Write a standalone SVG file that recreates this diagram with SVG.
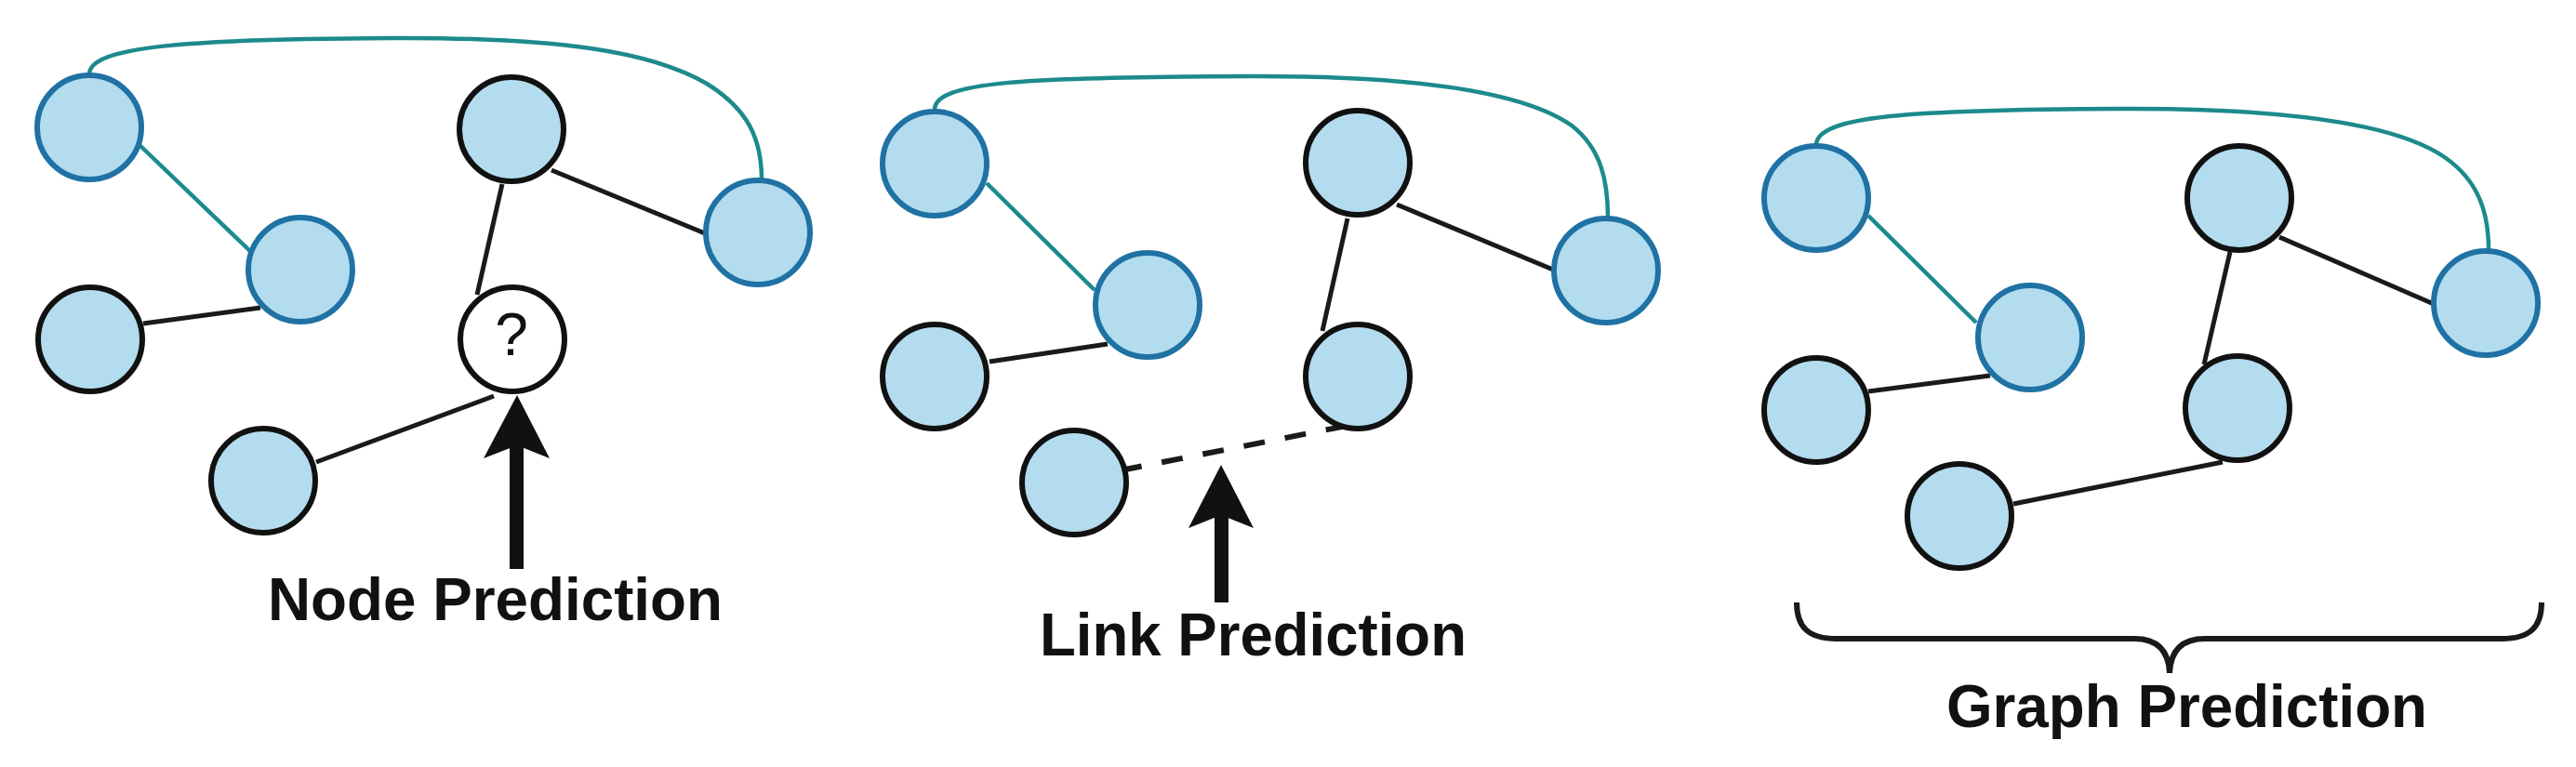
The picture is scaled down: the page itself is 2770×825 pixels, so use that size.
<svg xmlns="http://www.w3.org/2000/svg" width="2770" height="825" viewBox="0 0 2770 825">
<defs>
<style>
.nb{fill:#b3dcef;stroke:#1f72a3;stroke-width:6}
.nk{fill:#b3dcef;stroke:#111;stroke-width:6}
.nw{fill:#fff;stroke:#111;stroke-width:6}
.et{fill:none;stroke:#1d8a8c;stroke-width:4.5}
.ek{fill:none;stroke:#1a1a1a;stroke-width:5}
.ed{fill:none;stroke:#1a1a1a;stroke-width:6;stroke-dasharray:23 22}
.lbl{font-family:"Liberation Sans",Arial,sans-serif;font-weight:bold;font-size:65px;fill:#111}
.q{font-family:"Liberation Sans",Arial,sans-serif;font-size:64px;fill:#111;text-anchor:middle}
.arr{fill:#111}
</style>
</defs>
<rect width="2770" height="825" fill="#fff"/>
<g id="connectors">
<path class="et" d="M96,80 C96,50 200,42 420,41 C600,40 700,55 760,90 C805,118 819,150 819,193"/>
<line class="et" x1="150" y1="156" x2="271" y2="272"/>
<line class="ek" x1="154" y1="348" x2="280" y2="331"/>
<line class="ek" x1="540" y1="198" x2="513" y2="317"/>
<line class="ek" x1="593" y1="183" x2="758" y2="251"/>
<line class="ek" x1="531" y1="426" x2="340" y2="497"/>
<path class="et" d="M1005,118 C1005,88 1100,83 1340,82 C1530,81 1640,100 1690,135 C1722,160 1729,195 1729,234"/>
<line class="et" x1="1061" y1="197" x2="1177" y2="312"/>
<line class="ek" x1="1064" y1="389" x2="1191" y2="370"/>
<line class="ek" x1="1449" y1="235" x2="1422" y2="356"/>
<line class="ek" x1="1502" y1="220" x2="1670" y2="290"/>
<line class="ed" x1="1205" y1="506" x2="1448" y2="458"/>
<path class="et" d="M1953,156 C1953,125 2050,118 2280,117 C2470,116 2580,135 2630,170 C2665,195 2676,228 2676,268"/>
<line class="et" x1="2009" y1="232" x2="2125" y2="347"/>
<line class="ek" x1="2009" y1="421" x2="2140" y2="404"/>
<line class="ek" x1="2398" y1="271" x2="2370" y2="392"/>
<line class="ek" x1="2451" y1="255" x2="2617" y2="327"/>
<line class="ek" x1="2165" y1="542" x2="2390" y2="497"/>
</g>
<g id="p1-A"><circle class="nb" cx="96" cy="137" r="56"/></g>
<g id="p1-B"><circle class="nb" cx="323" cy="290" r="56"/></g>
<g id="p1-C"><circle class="nk" cx="97" cy="365" r="56"/></g>
<g id="p1-D"><circle class="nk" cx="550" cy="139" r="56"/></g>
<g id="p1-E"><circle class="nb" cx="815" cy="250" r="56"/></g>
<g id="p1-Q"><circle class="nw" cx="551" cy="365" r="56"/><text class="q" x="550" y="382">?</text></g>
<g id="p1-F"><circle class="nk" cx="283" cy="517" r="56"/></g>
<g id="p2-A"><circle class="nb" cx="1005" cy="176" r="56"/></g>
<g id="p2-B"><circle class="nb" cx="1234" cy="328" r="56"/></g>
<g id="p2-C"><circle class="nk" cx="1005" cy="405" r="56"/></g>
<g id="p2-D"><circle class="nk" cx="1460" cy="175" r="56"/></g>
<g id="p2-E"><circle class="nb" cx="1727" cy="291" r="56"/></g>
<g id="p2-G"><circle class="nk" cx="1460" cy="405" r="56"/></g>
<g id="p2-F"><circle class="nk" cx="1155" cy="519" r="56"/></g>
<g id="p3-A"><circle class="nb" cx="1953" cy="213" r="56"/></g>
<g id="p3-B"><circle class="nb" cx="2183" cy="363" r="56"/></g>
<g id="p3-C"><circle class="nk" cx="1953" cy="441" r="56"/></g>
<g id="p3-D"><circle class="nk" cx="2408" cy="213" r="56"/></g>
<g id="p3-E"><circle class="nb" cx="2673" cy="326" r="56"/></g>
<g id="p3-G"><circle class="nk" cx="2406" cy="439" r="56"/></g>
<g id="p3-F"><circle class="nk" cx="2107" cy="555" r="56"/></g>
<g id="arrow-node">
<rect class="arr" x="548" y="478" width="15" height="134"/>
<polygon class="arr" points="556,425 591,493 556,479 520,493"/>
</g>
<g id="arrow-link">
<rect class="arr" x="1306" y="554" width="15" height="94"/>
<polygon class="arr" points="1313,500 1348,568 1313,554 1278,568"/>
</g>
<g id="brace">
<path fill="none" stroke="#1a1a1a" stroke-width="6" d="M1932,648 C1932,675 1945,687 1975,687 L2295,687 C2320,687 2332,700 2333,724 C2334,700 2346,687 2371,687 L2690,687 C2720,687 2733,675 2733,648"/>
</g>
<text class="lbl" x="288" y="667" textLength="489" lengthAdjust="spacingAndGlyphs">Node Prediction</text>
<text class="lbl" x="1118" y="705" textLength="459" lengthAdjust="spacingAndGlyphs">Link Prediction</text>
<text class="lbl" x="2093" y="782" textLength="517" lengthAdjust="spacingAndGlyphs">Graph Prediction</text>
</svg>
